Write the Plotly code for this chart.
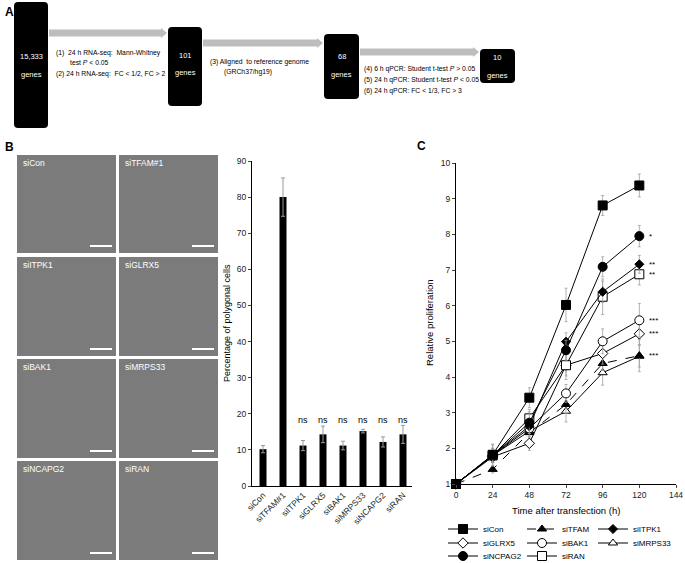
import plotly.graph_objects as go

W, H = 685, 563
FONT = "Arial, Liberation Sans, sans-serif"

# ---- panel A: gene filtering steps
gene_counts = ["15,333", "101", "68", "10"]
step_lines = [
    ["(1)  24 h RNA-seq:  Mann-Whitney", "test <i>P</i> < 0.05", "(2) 24 h RNA-seq:  FC < 1/2, FC > 2"],
    ["(3) Aligned  to reference genome", "(GRCh37/hg19)"],
    ["(4) 6 h qPCR: Student t-test <i>P</i> > 0.05",
     "(5) 24 h qPCR: Student t-test <i>P</i> < 0.05",
     "(6) 24 h qPCR: FC < 1/3, FC > 3"],
]

# ---- panel B: polygonal cells
image_labels = ["siCon", "siTFAM#1", "siITPK1", "siGLRX5", "siBAK1", "siMRPS33", "siNCAPG2", "siRAN"]
bar_groups = ["siCon", "siTFAM#1", "siITPK1", "siGLRX5", "siBAK1", "siMRPS33", "siNCAPG2", "siRAN"]
polygonal_pct = [10.2, 80.0, 11.2, 14.3, 11.2, 15.2, 12.2, 14.3]
polygonal_err = [1.0, 5.3, 1.4, 2.3, 1.2, 0.5, 1.4, 2.5]
bar_sig = ["", "", "ns", "ns", "ns", "ns", "ns", "ns"]

# ---- panel C: relative proliferation
hours = [0, 24, 48, 72, 96, 120]
si_con = [1.0, 1.82, 3.42, 6.02, 8.81, 9.37]
si_tfam = [1.0, 1.41, 2.44, 3.23, 4.38, 4.60]
si_itpk1 = [1.0, 1.80, 2.62, 4.99, 6.39, 7.16]
si_glrx5 = [1.0, 1.76, 2.14, 4.33, 4.66, 5.21]
si_bak1 = [1.0, 1.80, 2.56, 3.54, 5.00, 5.59]
si_mrps33 = [1.0, 1.80, 2.48, 3.04, 4.12, 4.58]
si_ncpag2 = [1.0, 1.80, 2.72, 4.75, 7.09, 7.95]
si_ran = [1.0, 1.80, 2.84, 4.33, 6.25, 6.88]
err_con = [0, 0.30, 0.28, 0.47, 0.28, 0.32]
err_tfam = [0, 0.10, 0.20, 0.25, 0.20, 0.45]
err_itpk1 = [0, 0.20, 0.20, 0.25, 0.30, 0.25]
err_glrx5 = [0, 0.15, 0.20, 0.30, 0.30, 0.30]
err_bak1 = [0, 0.20, 0.25, 0.25, 0.35, 0.47]
err_mrps33 = [0, 0.15, 0.25, 0.30, 0.35, 0.30]
err_ncpag2 = [0, 0.30, 0.30, 0.28, 0.28, 0.30]
err_ran = [0, 0.20, 0.25, 0.40, 0.50, 0.30]
line_sig = {"siCon": "", "siTFAM": "***", "siITPK1": "**", "siGLRX5": "***",
            "siBAK1": "***", "siMRPS33": "", "siNCPAG2": "*", "siRAN": "**"}


def px(x):
    return x / W


def py(y):
    return 1 - y / H


def path_of(points):
    return "M " + " L ".join("{:.5f},{:.5f}".format(px(a), py(b)) for a, b in points) + " Z"


def rounded_box(x0, y0, x1, y1, r=4):
    p = "M {:.5f},{:.5f}".format(px(x0 + r), py(y0))
    p += " L {:.5f},{:.5f}".format(px(x1 - r), py(y0))
    p += " Q {:.5f},{:.5f} {:.5f},{:.5f}".format(px(x1), py(y0), px(x1), py(y0 + r))
    p += " L {:.5f},{:.5f}".format(px(x1), py(y1 - r))
    p += " Q {:.5f},{:.5f} {:.5f},{:.5f}".format(px(x1), py(y1), px(x1 - r), py(y1))
    p += " L {:.5f},{:.5f}".format(px(x0 + r), py(y1))
    p += " Q {:.5f},{:.5f} {:.5f},{:.5f}".format(px(x0), py(y1), px(x0), py(y1 - r))
    p += " L {:.5f},{:.5f}".format(px(x0), py(y0 + r))
    p += " Q {:.5f},{:.5f} {:.5f},{:.5f} Z".format(px(x0), py(y0), px(x0 + r), py(y0))
    return p


def arrow(x0, x1, yc):
    return path_of([(x0, yc - 3.5), (x1 - 6, yc - 3.5), (x1 - 6, yc - 5), (x1, yc),
                    (x1 - 6, yc + 5), (x1 - 6, yc + 3.5), (x0, yc + 3.5)])


def note(x, y, text, size=7, color="black", xanchor="left", **kw):
    return dict(x=px(x), y=py(y), xref="paper", yref="paper", text=text, showarrow=False,
                xanchor=xanchor, yanchor="middle", font=dict(family=FONT, size=size, color=color), **kw)


shapes = []
annotations = []

# panel A
annotations.append(note(3, 12, "<b>A</b>", size=12))
boxes = [(14, 2, 48, 128, 57, 74), (168, 27, 202, 106, 55, 73),
         (324, 34, 359, 99, 57, 74), (480, 49, 515, 83, 58, 75)]
for (x0, y0, x1, y1, t1, t2), count in zip(boxes, gene_counts):
    shapes.append(dict(type="path", path=rounded_box(x0, y0, x1, y1), xref="paper", yref="paper",
                       fillcolor="black", line=dict(width=0)))
    annotations.append(note((x0 + x1) / 2, t1, count, size=7.5, color="white", xanchor="center"))
    annotations.append(note((x0 + x1) / 2, t2, "genes", size=7.5, color="white", xanchor="center"))

arrows = [(49, 167, 33), (203, 323, 43), (360, 479, 52)]
for x0, x1, yc in arrows:
    shapes.append(dict(type="path", path=arrow(x0, x1, yc), xref="paper", yref="paper",
                       fillcolor="#bdbdbd", line=dict(width=0)))

step_pos = [[(54, 53), (68, 62), (54, 74)], [(208, 62), (222, 72)], [(362, 69), (362, 80), (362, 91)]]
for lines, pos in zip(step_lines, step_pos):
    for text, (x, y) in zip(lines, pos):
        annotations.append(note(x, y, text, size=6.8))

# panel B images (micrographs shown as grey fields)
annotations.append(note(3, 147, "<b>B</b>", size=12))
cols = [(17, 116), (119, 218)]
rows = [(155, 253), (257, 356), (359, 458), (461, 560)]
for k, label in enumerate(image_labels):
    x0, x1 = cols[k % 2]
    y0, y1 = rows[k // 2]
    shapes.append(dict(type="rect", xref="paper", yref="paper", x0=px(x0), x1=px(x1), y0=py(y1), y1=py(y0),
                       fillcolor="#7b7b7b", line=dict(width=0)))
    shapes.append(dict(type="line", xref="paper", yref="paper", x0=px(x1 - 26), x1=px(x1 - 4),
                       y0=py(y1 - 7), y1=py(y1 - 7), line=dict(color="white", width=2)))
    annotations.append(note(x0 + 4, y0 + 8, label, size=8.5, color="white"))

# panel C letter
annotations.append(note(415, 146, "<b>C</b>", size=12))

fig = go.Figure()

fig.add_trace(go.Bar(
    x=bar_groups, y=polygonal_pct, marker=dict(color="black", line=dict(width=0)),
    error_y=dict(type="data", array=polygonal_err, color="#9a9a9a", thickness=1, width=2),
    xaxis="x", yaxis="y", showlegend=False,
))
for g, v, e, s in zip(bar_groups, polygonal_pct, polygonal_err, bar_sig):
    if s:
        annotations.append(dict(x=g, y=18.3, xref="x", yref="y", text=s, showarrow=False,
                                font=dict(family=FONT, size=9, color="black")))
annotations.append(note(227, 323, "Percentage of polygonal cells", size=9, xanchor="center", textangle=-90))

series = [
    ("siCon", si_con, err_con, "square", 9, "black", "solid", "legend"),
    ("siTFAM", si_tfam, err_tfam, "triangle-up", 8, "black", "dash", "legend"),
    ("siITPK1", si_itpk1, err_itpk1, "diamond", 7, "black", "solid", "legend"),
    ("siGLRX5", si_glrx5, err_glrx5, "diamond", 8, "white", "solid", "legend2"),
    ("siBAK1", si_bak1, err_bak1, "circle", 9, "white", "solid", "legend2"),
    ("siMRPS33", si_mrps33, err_mrps33, "triangle-up", 8, "white", "solid", "legend2"),
    ("siNCPAG2", si_ncpag2, err_ncpag2, "circle", 9, "black", "solid", "legend3"),
    ("siRAN", si_ran, err_ran, "square", 9, "white", "solid", "legend3"),
]
col_width = [34, 26, 0]
draw_order = [5, 1, 3, 4, 7, 2, 6, 0]
for idx in draw_order:
    name, vals, errs, sym, size, fill, dash, leg = series[idx]
    lw = col_width[idx % 3]
    fig.add_trace(go.Scatter(
        x=hours, y=vals, name=name, mode="lines+markers", legend=leg,
        legendrank=idx, legendwidth=lw if lw else None,
        line=dict(color="black", width=1, dash=dash),
        marker=dict(symbol=sym, size=size, color=fill, line=dict(color="black", width=1)),
        error_y=dict(type="data", array=errs, color="#a0a0a0", thickness=0.8, width=1.5),
        xaxis="x2", yaxis="y2", cliponaxis=False,
    ))
    if line_sig[name]:
        annotations.append(dict(x=125, y=vals[-1], xref="x2", yref="y2", text=line_sig[name],
                                showarrow=False, xanchor="left", yanchor="middle",
                                font=dict(family=FONT, size=8, color="black")))

annotations.append(note(429, 323, "Relative proliferation", size=9.5, xanchor="center", textangle=-90))
annotations.append(note(566, 510, "Time after transfection (h)", size=9.5, xanchor="center"))

tick_font = dict(family=FONT, size=8.5, color="#222")
axis_base = dict(showline=True, linecolor="black", linewidth=1, showgrid=False, zeroline=False,
                 automargin=False, tickfont=tick_font)
legend_base = dict(orientation="h", xanchor="left", yanchor="middle", x=px(443),
                   font=dict(family=FONT, size=8, color="black"), bgcolor="rgba(0,0,0,0)",
                   itemwidth=30, traceorder="normal", itemclick=False, borderwidth=0)

fig.update_layout(
    template="none",
    width=W, height=H, margin=dict(l=0, r=0, t=0, b=0, autoexpand=False),
    paper_bgcolor="white", plot_bgcolor="white",
    font=dict(family=FONT, color="black"),
    bargap=0.65,
    xaxis=dict(axis_base, domain=[px(252), px(412)], range=[-0.55, 7.45], tickangle=-45,
               ticks="", anchor="y", fixedrange=True),
    yaxis=dict(axis_base, domain=[py(486), py(161)], range=[0, 90], dtick=10,
               ticks="outside", ticklen=3, anchor="x"),
    xaxis2=dict(axis_base, domain=[px(456), px(676)], range=[0, 144], dtick=24,
                ticks="outside", ticklen=3, anchor="y2"),
    yaxis2=dict(axis_base, domain=[py(484), py(163)], range=[1, 10], dtick=1,
                ticks="outside", ticklen=3, anchor="x2"),
    legend=dict(legend_base, y=py(529)),
    legend2=dict(legend_base, y=py(543)),
    legend3=dict(legend_base, y=py(556)),
    shapes=shapes,
    annotations=annotations,
)

# the page's default body margin would shift the fixed-size figure
fig.write_html("out.html", config={"displayModeBar": False},
               post_script="document.body.style.margin='0';")
